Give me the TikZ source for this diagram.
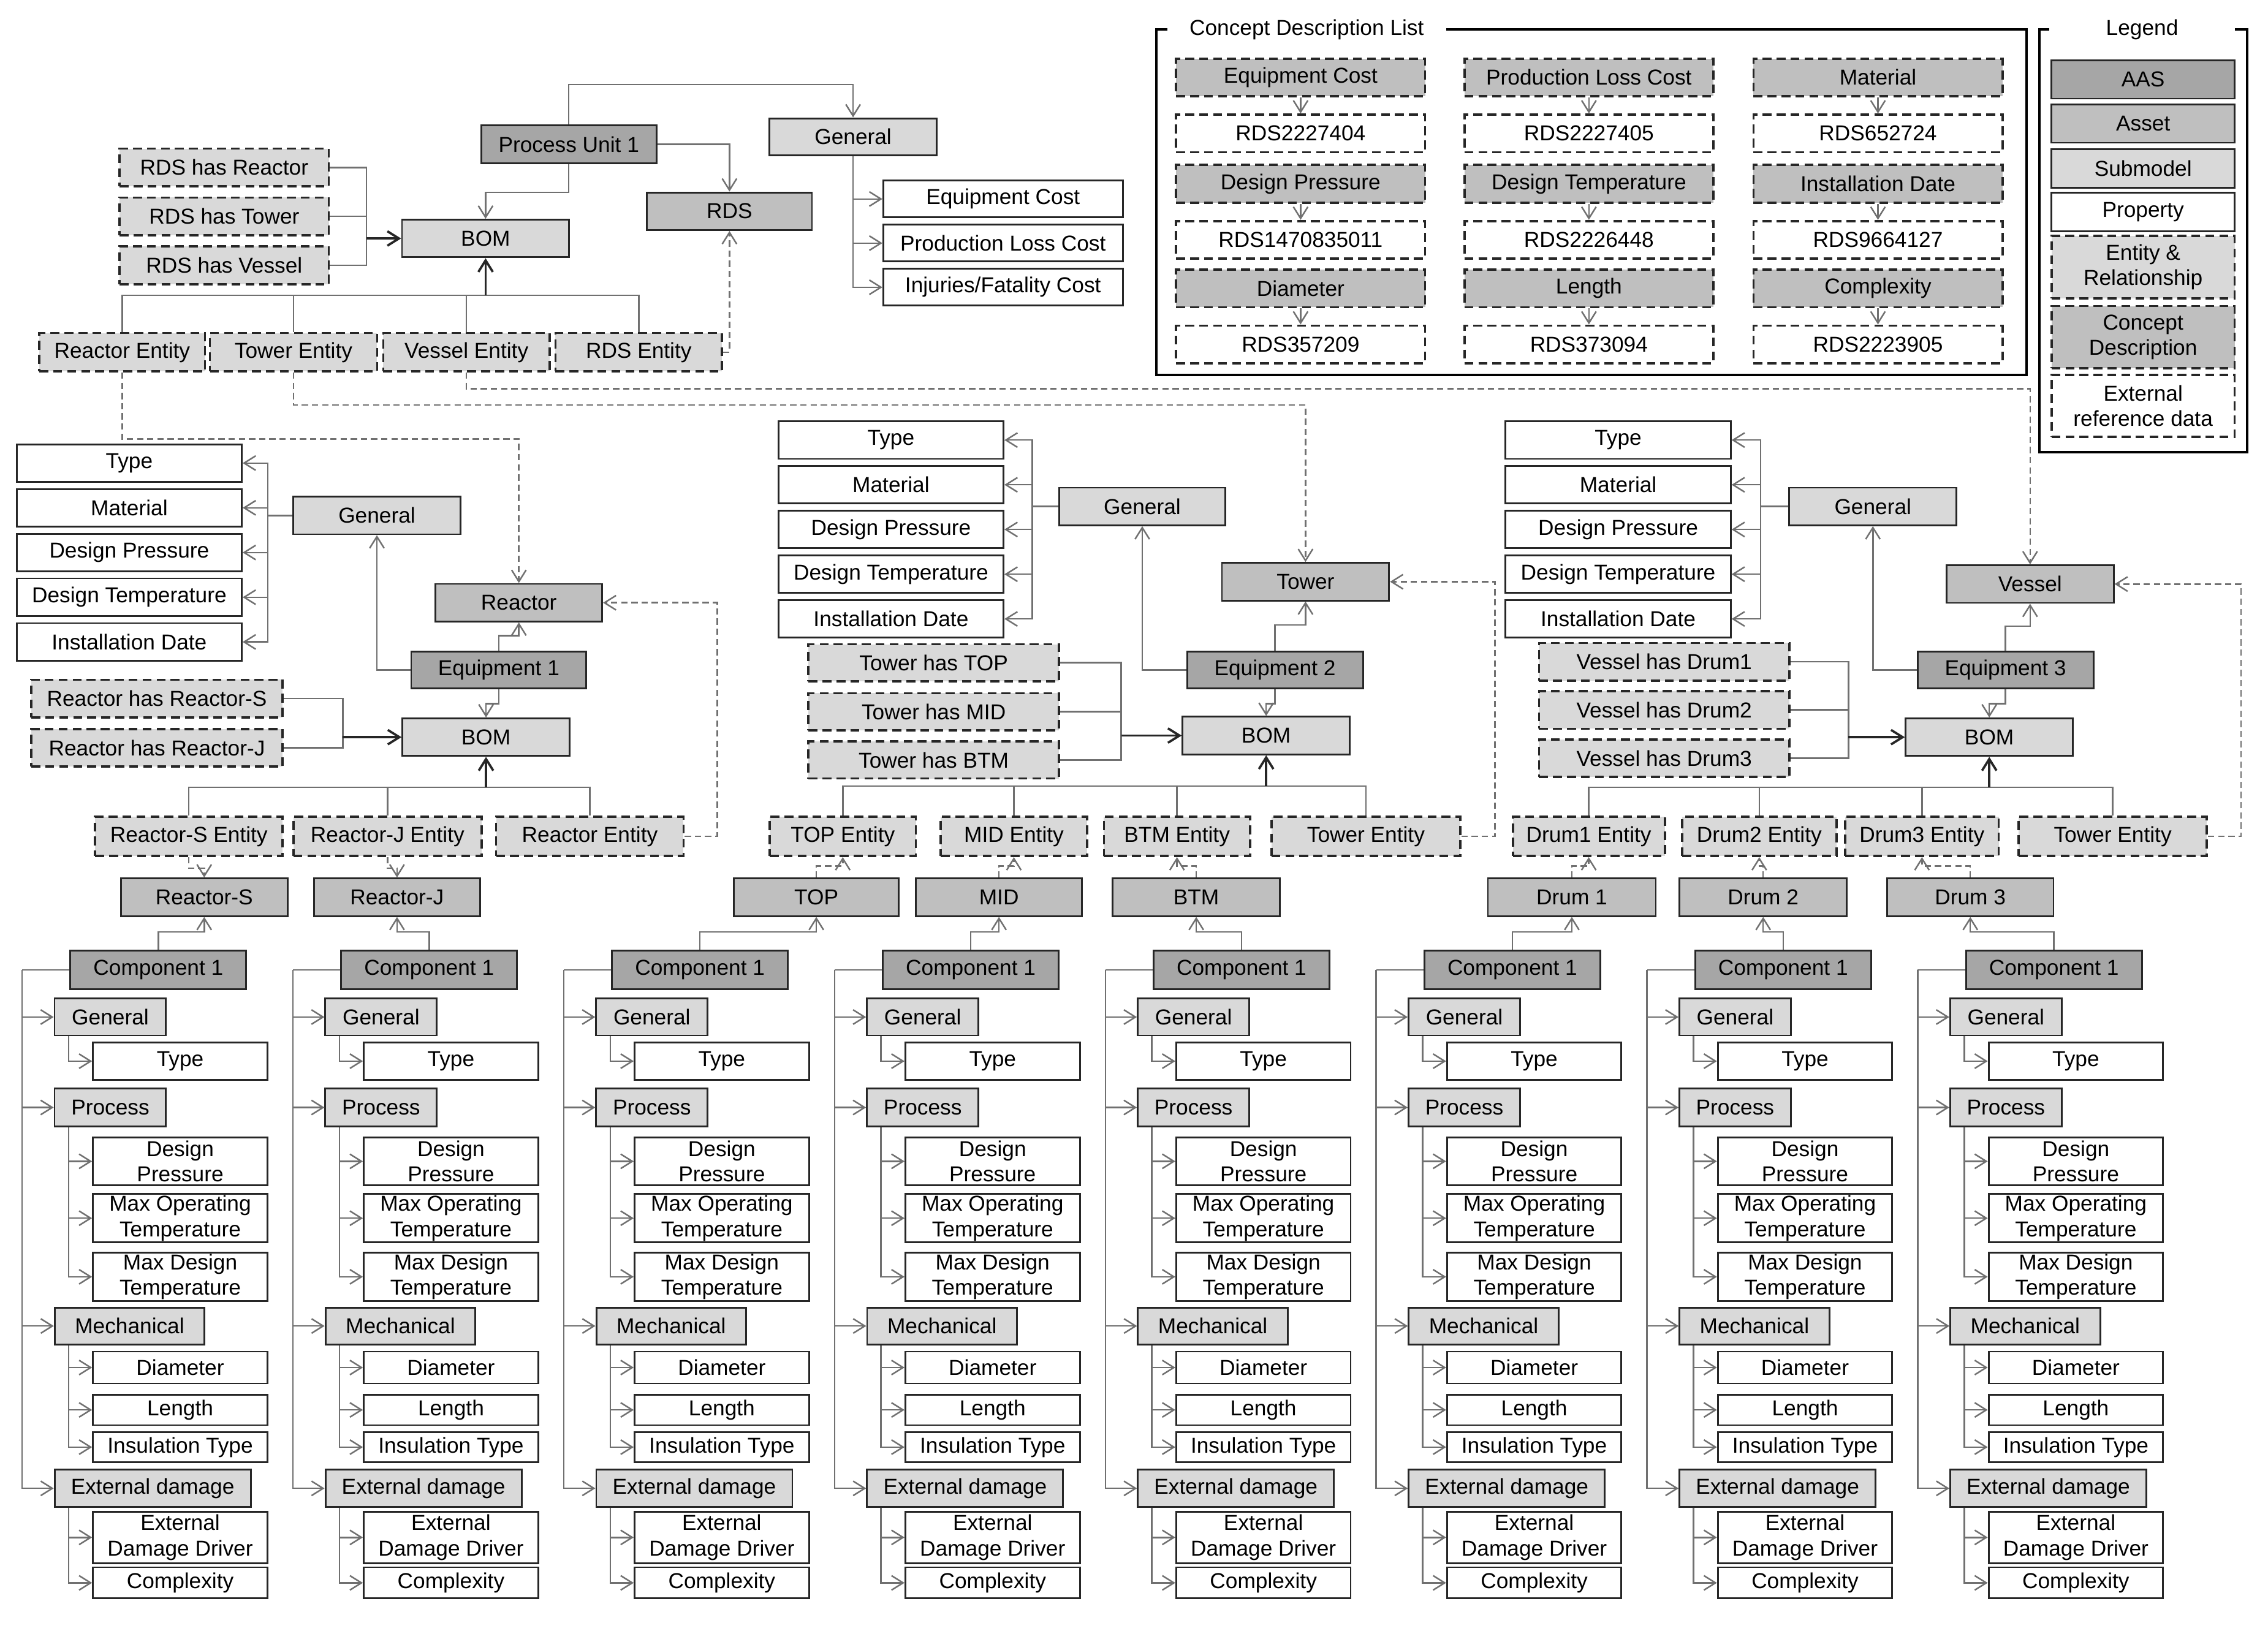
\documentclass[tikz,border=0pt]{standalone}
\usepackage{fontspec}
\setmainfont{Liberation Sans}
\usepackage{tikz}
\usetikzlibrary{arrows.meta}

\definecolor{aasgray}{HTML}{A6A6A6}
\definecolor{assetgray}{HTML}{BFBFBF}
\definecolor{subgray}{HTML}{D9D9D9}
\definecolor{linegray}{HTML}{707070}
\definecolor{boxline}{HTML}{262626}

\begin{document}
\begin{tikzpicture}[x=0.2mm, y=-0.2mm,
	box/.style={draw=boxline, line width=0.7pt, inner xsep=1pt, inner ysep=0.3pt, align=center, minimum height=5.1mm, font=\fontsize{8.5}{10}\selectfont},
	aas/.style={box, fill=aasgray},
	asset/.style={box, fill=assetgray},
	sub/.style={box, fill=subgray},
	prop/.style={box, fill=white},
	dbox/.style={box, line width=0.9pt, dash pattern=on 3.5pt off 2pt},
	ent/.style={dbox, fill=subgray},
	cdesc/.style={dbox, fill=assetgray},
	extref/.style={dbox, fill=white},
	frametitle/.style={fill=white, inner sep=1pt, font=\fontsize{8.5}{10}\selectfont},
	listframe/.style={draw=black, line width=1pt},
	conn/.style={draw=linegray, line width=0.6pt},
	stem/.style={draw=boxline, line width=0.9pt},
	dconn/.style={conn, dash pattern=on 2.5pt off 1.5pt},
	>={Straight Barb[length=1.6mm,width=2mm]}
]
\useasboundingbox (0,0) rectangle (1567,1126.7);

% concept description list
\draw[listframe] (799,20.5) rectangle (1400,259);
\node[frametitle, minimum width=38.5mm] (cdl) at (902.8,20.5) {Concept Description List};
\foreach \cn/\rn/\x/\y [count=\k] in {Equipment Cost/RDS2227404/898.6/53.5, Production Loss Cost/RDS2227405/1097.8/53.5, Material/RDS652724/1297.5/53.5, Design Pressure/RDS1470835011/898.6/127, Design Temperature/RDS2226448/1097.8/127, Installation Date/RDS9664127/1297.5/127, Diameter/RDS357209/898.6/199.3, Length/RDS373094/1097.8/199.3, Complexity/RDS2223905/1297.5/199.3} {
	\node[cdesc, minimum width=34.4mm, minimum height=5.2mm] (cd\k) at (\x,\y) {\cn};
	\node[extref, minimum width=34.4mm, minimum height=5.2mm] (rf\k) at (\x,\y+38.7) {\rn};
	\draw[conn,->] (cd\k) -- (rf\k);
}

% legend
\draw[listframe] (1409,20.5) rectangle (1552.5,312.4);
\node[frametitle, minimum width=25.6mm] (lgd) at (1480,20.5) {Legend};
\node[aas, minimum width=25.3mm, minimum height=5.3mm] (l-aas) at (1480.7,54.9) {AAS};
\node[asset, minimum width=25.3mm, minimum height=5.3mm] (l-asset) at (1480.7,85.4) {Asset};
\node[sub, minimum width=25.3mm, minimum height=5.3mm] (l-sub) at (1480.7,116.5) {Submodel};
\node[prop, minimum width=25.3mm, minimum height=5.3mm] (l-prop) at (1480.7,146.5) {Property};
\node[ent, minimum width=25.3mm, minimum height=8.6mm] (l-ent) at (1480.7,184.6) {Entity \&\\Relationship};
\node[cdesc, minimum width=25.3mm, minimum height=8.6mm] (l-cd) at (1480.7,233) {Concept\\Description};
\node[extref, minimum width=25.3mm, minimum height=8.6mm] (l-ext) at (1480.7,280.5) {External\\reference data};

% process unit
\node[aas, minimum width=24.2mm, minimum height=5.2mm] (pu1) at (393,99.7) {Process Unit 1};
\node[sub, minimum width=23.1mm] (gen0) at (589.4,94.5) {General};
\node[asset, minimum width=22.8mm, minimum height=5.2mm] (rds) at (504,146) {RDS};
\node[sub, minimum width=23.1mm, minimum height=5.2mm] (bom0) at (335.5,164.8) {BOM};
\node[ent, minimum width=28.9mm, minimum height=5.2mm] (rhr) at (154.9,115.7) {RDS has Reactor};
\node[ent, minimum width=28.9mm, minimum height=5.2mm] (rht) at (154.9,149.5) {RDS has Tower};
\node[ent, minimum width=28.9mm, minimum height=5.2mm] (rhv) at (154.9,183.3) {RDS has Vessel};
\node[prop, minimum width=33.1mm] (ec) at (693,137.5) {Equipment Cost};
\node[prop, minimum width=33.1mm] (plc) at (693,168) {Production Loss Cost};
\node[prop, minimum width=33.1mm] (ifc) at (693,198.5) {Injuries/Fatality Cost};
\node[ent, minimum width=22.9mm, minimum height=5.3mm] (reE) at (84.4,243.4) {Reactor Entity};
\node[ent, minimum width=23.1mm, minimum height=5.3mm] (toE) at (202.8,243.4) {Tower Entity};
\node[ent, minimum width=23mm, minimum height=5.3mm] (veE) at (322.3,243.4) {Vessel Entity};
\node[ent, minimum width=23mm, minimum height=5.3mm] (rdsE) at (441.3,243.4) {RDS Entity};

\draw[conn,->] (pu1.north) -- ++(0,-27.7) -| (gen0.north);
\draw[conn,->] (pu1.east) -| (rds.north);
\draw[conn,->] (pu1.south) -- ++(0,19.7) -| (bom0.north);
\draw[conn,->] (gen0.south) |- (ec.west);
\draw[conn,->] (gen0.south) |- (plc.west);
\draw[conn,->] (gen0.south) |- (ifc.west);
\coordinate (bus0) at (253.1,164.8);
\draw[conn] (rhr.east) -| (bus0) |- (rhv.east);
\draw[conn] (rht.east) -- (rht.east -| bus0);
\draw[stem,->] (bus0) -- (bom0.west);
\coordinate (ebus0) at (335.5,204.1);
\draw[conn] (reE.north) |- (rdsE.north |- ebus0) -- (rdsE.north);
\draw[conn] (toE.north) -- (toE.north |- ebus0);
\draw[conn] (veE.north) -- (veE.north |- ebus0);
\draw[stem,->] (ebus0) -- (bom0.south);
\draw[dconn,->] (rdsE.east) -| (rds.south);

% property stacks of the three equipments
\foreach \q/\x/\y in {r/89.3/320, t/615.6/304.1, v/1118/304.1}
	\foreach \n/\t [count=\k from 0] in {type/Type, mat/Material, dp/Design Pressure, dt/Design Temperature, id/Installation Date}
		\node[prop, minimum width=31.1mm, minimum height=5.2mm] (\q-\n) at (\x,\y+30.9*\k) {\t};

% equipment 1
\node[sub, minimum width=23.1mm, minimum height=5.2mm] (r-gen) at (260.4,356.2) {General};
\node[asset, minimum width=23mm, minimum height=5.2mm] (reactor) at (358.5,416.5) {Reactor};
\node[aas, minimum width=24.2mm] (eq1) at (344.6,463) {Equipment 1};
\node[ent, minimum width=34.7mm, minimum height=5.2mm] (rhs) at (108.4,482.7) {Reactor has Reactor-S};
\node[ent, minimum width=34.7mm, minimum height=5.2mm] (rhj) at (108.4,516.8) {Reactor has Reactor-J};
\node[sub, minimum width=23.1mm, minimum height=5.2mm] (r-bom) at (335.8,509.4) {BOM};
\node[ent, minimum width=25.9mm, minimum height=5.4mm] (rsE) at (130.5,578) {Reactor-S Entity};
\node[ent, minimum width=26mm, minimum height=5.4mm] (rjE) at (267.7,578) {Reactor-J Entity};
\node[ent, minimum width=25.9mm, minimum height=5.4mm] (rE) at (407.5,578) {Reactor Entity};
\node[asset, minimum width=23mm, minimum height=5.2mm] (rs) at (141.1,620) {Reactor-S};
\node[asset, minimum width=23mm, minimum height=5.2mm] (rj) at (274.3,620) {Reactor-J};

% equipment 2
\node[sub, minimum width=23mm, minimum height=5.2mm] (t-gen) at (789.2,350) {General};
\node[asset, minimum width=23.1mm, minimum height=5.2mm] (tower) at (902,402) {Tower};
\node[aas, minimum width=24.3mm] (eq2) at (880.9,463) {Equipment 2};
\node[ent, minimum width=34.6mm] (tht) at (645.1,458) {Tower has TOP};
\node[ent, minimum width=34.6mm] (thm) at (645.1,491.8) {Tower has MID};
\node[ent, minimum width=34.6mm] (thb) at (645.1,525.2) {Tower has BTM};
\node[sub, minimum width=23.1mm, minimum height=5.2mm] (t-bom) at (874.8,508.3) {BOM};
\node[ent, minimum width=20.2mm, minimum height=5.4mm] (topE) at (582.3,578) {TOP Entity};
\node[ent, minimum width=20.2mm, minimum height=5.4mm] (midE) at (700.5,578) {MID Entity};
\node[ent, minimum width=20.2mm, minimum height=5.4mm] (btmE) at (813.2,578) {BTM Entity};
\node[ent, minimum width=26.1mm, minimum height=5.4mm] (tE) at (943.7,578) {Tower Entity};
\node[asset, minimum width=22.8mm, minimum height=5.2mm] (top) at (564,620) {TOP};
\node[asset, minimum width=22.9mm, minimum height=5.2mm] (mid) at (690.2,620) {MID};
\node[asset, minimum width=23.1mm, minimum height=5.2mm] (btm) at (826.5,620) {BTM};

% equipment 3
\node[sub, minimum width=23.1mm, minimum height=5.2mm] (v-gen) at (1294,350) {General};
\node[asset, minimum width=23.1mm, minimum height=5.2mm] (vessel) at (1402.6,403.6) {Vessel};
\node[aas, minimum width=24.3mm] (eq3) at (1385.6,463) {Equipment 3};
\node[ent, minimum width=34.6mm, minimum height=5.2mm] (vh1) at (1149.8,457.3) {Vessel has Drum1};
\node[ent, minimum width=34.6mm, minimum height=5.2mm] (vh2) at (1149.8,490.6) {Vessel has Drum2};
\node[ent, minimum width=34.6mm, minimum height=5.2mm] (vh3) at (1149.8,524) {Vessel has Drum3};
\node[sub, minimum width=23.1mm, minimum height=5.2mm] (v-bom) at (1374.4,509.4) {BOM};
\node[ent, minimum width=21mm, minimum height=5.4mm] (d1E) at (1097.7,578) {Drum1 Entity};
\node[ent, minimum width=21.3mm, minimum height=5.4mm] (d2E) at (1215.5,578) {Drum2 Entity};
\node[ent, minimum width=21.2mm, minimum height=5.4mm] (d3E) at (1327.9,578) {Drum3 Entity};
\node[ent, minimum width=26mm, minimum height=5.4mm] (vtE) at (1459.7,578) {Tower Entity};
\node[asset, minimum width=23.2mm, minimum height=5.2mm] (d1) at (1086,620) {Drum 1};
\node[asset, minimum width=23.1mm, minimum height=5.2mm] (d2) at (1218.2,620) {Drum 2};
\node[asset, minimum width=23mm, minimum height=5.2mm] (d3) at (1361.3,620) {Drum 3};

% links from the process unit entities
\draw[dconn,->] (reE.south) -- ++(0,46) -| (reactor.north);
\draw[dconn,->] (toE.south) -- ++(0,22.4) -| (tower.north);
\draw[dconn,->] (veE.south) -- ++(0,11.3) -| (vessel.north);

% equipment links
\coordinate (r-gbus) at (185,356.2);
\coordinate (t-gbus) at (713.1,350);
\coordinate (v-gbus) at (1216.5,350);
\draw[conn] (r-gen.west) -- (r-gbus);
\draw[conn] (t-gen.west) -- (t-gbus);
\draw[conn] (v-gen.west) -- (v-gbus);
\foreach \q in {r,t,v}
	\foreach \n in {type,mat,dp,dt,id}
		\draw[conn,->] (\q-gbus) |- (\q-\n.east);

\draw[conn,->] (eq1.west) -| (r-gen.south);
\draw[conn,->] (eq2.west) -| (t-gen.south);
\draw[conn,->] (eq3.west) -| (v-gen.south);
\draw[conn,->] (eq1.north) -- ++(0,-10.4) -| (reactor.south);
\draw[conn,->] (eq2.north) -- ++(0,-17.8) -| (tower.south);
\draw[conn,->] (eq3.north) -- ++(0,-17) -| (vessel.south);
\draw[conn,->] (eq1.south) -- ++(0,10) -| (r-bom.north);
\draw[conn,->] (eq2.south) -- ++(0,10) -| (t-bom.north);
\draw[conn,->] (eq3.south) -- ++(0,10) -| (v-bom.north);

\coordinate (r-hbus) at (236.8,509.4);
\draw[conn] (rhs.east) -| (r-hbus) |- (rhj.east);
\draw[stem,->] (r-hbus) -- (r-bom.west);
\coordinate (t-hbus) at (774.6,508.3);
\draw[conn] (tht.east) -| (t-hbus) |- (thb.east);
\draw[conn] (thm.east) -- (thm.east -| t-hbus);
\draw[stem,->] (t-hbus) -- (t-bom.west);
\coordinate (v-hbus) at (1277.1,509.4);
\draw[conn] (vh1.east) -| (v-hbus) |- (vh3.east);
\draw[conn] (vh2.east) -- (vh2.east -| v-hbus);
\draw[stem,->] (v-hbus) -- (v-bom.west);

\coordinate (r-ebus) at (335.8,544);
\draw[conn] (rsE.north) |- (rE.north |- r-ebus) -- (rE.north);
\draw[conn] (rjE.north) -- (rjE.north |- r-ebus);
\draw[stem,->] (r-ebus) -- (r-bom.south);
\coordinate (t-ebus) at (874.8,543.2);
\draw[conn] (topE.north) |- (tE.north |- t-ebus) -- (tE.north);
\draw[conn] (midE.north) -- (midE.north |- t-ebus);
\draw[conn] (btmE.north) -- (btmE.north |- t-ebus);
\draw[stem,->] (t-ebus) -- (t-bom.south);
\coordinate (v-ebus) at (1374.4,544);
\draw[conn] (d1E.north) |- (vtE.north |- v-ebus) -- (vtE.north);
\draw[conn] (d2E.north) -- (d2E.north |- v-ebus);
\draw[conn] (d3E.north) -- (d3E.north |- v-ebus);
\draw[stem,->] (v-ebus) -- (v-bom.south);

\draw[dconn,->] (rE.east) -- ++(22.5,0) |- (reactor.east);
\draw[dconn,->] (tE.east) -- ++(23.2,0) |- (tower.east);
\draw[dconn,->] (vtE.east) -- ++(22.8,0) |- (vessel.east);

\draw[dconn,->] (rsE.south) -- ++(0,7.6) -| (rs.north);
\draw[dconn,->] (rjE.south) -- ++(0,7.6) -| (rj.north);
\foreach \a/\e in {top/topE, mid/midE, btm/btmE, d1/d1E, d2/d2E, d3/d3E}
	\draw[dconn,->] (\a.north) -- ++(0,-8) -| (\e.south);

% components
\foreach \pa [count=\i] in {rs,rj,top,mid,btm,d1,d2,d3} {
	\pgfmathsetmacro\x{48.6+187.1*(\i-1)}
	\node[aas, minimum width=24.3mm, minimum height=5.3mm] (c\i) at (\x+60.8,670.2) {Component 1};
	\node[sub, minimum width=15.4mm] (c\i-gen) at (\x+27.6,702.8) {General};
	\node[prop, minimum width=24.1mm] (c\i-type) at (\x+75.9,733.3) {Type};
	\node[sub, minimum width=15.4mm, minimum height=5.3mm] (c\i-pro) at (\x+27.6,765.3) {Process};
	\node[prop, minimum width=24.1mm, minimum height=6.6mm] (c\i-dp) at (\x+75.9,802.5) {Design\\Pressure};
	\node[prop, minimum width=24.1mm, minimum height=6.7mm] (c\i-mot) at (\x+75.9,841.8) {Max Operating\\Temperature};
	\node[prop, minimum width=24.1mm, minimum height=6.7mm] (c\i-mdt) at (\x+75.9,882.3) {Max Design\\Temperature};
	\node[sub, minimum width=20.7mm] (c\i-mech) at (\x+40.95,916.3) {Mechanical};
	\node[prop, minimum width=24.1mm, minimum height=4.4mm] (c\i-dia) at (\x+75.9,945) {Diameter};
	\node[prop, minimum width=24.1mm, minimum height=4.2mm] (c\i-len) at (\x+75.9,974.3) {Length};
	\node[prop, minimum width=24.1mm, minimum height=4.1mm] (c\i-ins) at (\x+75.9,1000) {Insulation Type};
	\node[sub, minimum width=27.1mm, minimum height=5.2mm] (c\i-ext) at (\x+56.9,1028.5) {External damage};
	\node[prop, minimum width=24.1mm, minimum height=7.1mm] (c\i-edd) at (\x+75.9,1062.4) {External\\Damage Driver};
	\node[prop, minimum width=24.1mm, minimum height=4.3mm] (c\i-cx) at (\x+75.9,1093.8) {Complexity};
	\coordinate (c\i-lb) at (\x-33.3,670.2);
	\coordinate (c\i-sb) at (\x-1.2,670.2);
	\draw[conn] (c\i.west) -- (c\i-lb);
	\foreach \s in {gen,pro,mech,ext}
		\draw[conn,->] (c\i-lb) |- (c\i-\s.west);
	\foreach \s/\t in {gen/type, pro/dp, pro/mot, pro/mdt, mech/dia, mech/len, mech/ins, ext/edd, ext/cx}
		\draw[conn,->] (c\i-\s.south -| c\i-sb) |- (c\i-\t.west);
	\draw[conn,->] (c\i.north) -- ++(0,-12.3) -| (\pa.south);
}
\end{tikzpicture}
\end{document}
